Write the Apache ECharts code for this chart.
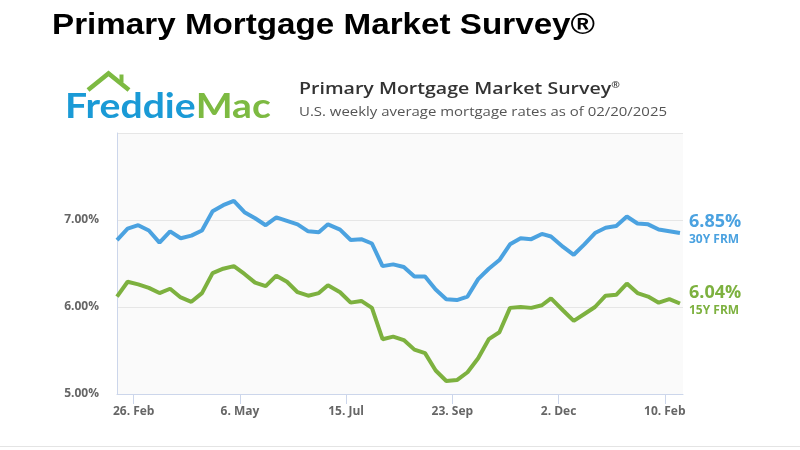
<!DOCTYPE html>
<html>
<head>
<meta charset="utf-8">
<script src="https://cdn.jsdelivr.net/npm/echarts@6/dist/echarts.min.js"></script>
<style>html,body{margin:0;padding:0;background:#fff;}#c{width:800px;height:450px;}</style>
</head>
<body>
<div id="c"></div>
<script>
const dates = ["2024-02-15","2024-02-22","2024-02-29","2024-03-07","2024-03-14","2024-03-21","2024-03-28","2024-04-04","2024-04-11","2024-04-18","2024-04-25","2024-05-02","2024-05-09","2024-05-16","2024-05-23","2024-05-30","2024-06-06","2024-06-13","2024-06-20","2024-06-27","2024-07-03","2024-07-11","2024-07-18","2024-07-25","2024-08-01","2024-08-08","2024-08-15","2024-08-22","2024-08-29","2024-09-05","2024-09-12","2024-09-19","2024-09-26","2024-10-03","2024-10-10","2024-10-17","2024-10-24","2024-10-31","2024-11-07","2024-11-14","2024-11-21","2024-11-27","2024-12-05","2024-12-12","2024-12-19","2024-12-26","2025-01-02","2025-01-09","2025-01-16","2025-01-23","2025-01-30","2025-02-06","2025-02-13","2025-02-20"];
const frm30 = [6.77,6.90,6.94,6.88,6.74,6.87,6.79,6.82,6.88,7.10,7.17,7.22,7.09,7.02,6.94,7.03,6.99,6.95,6.87,6.86,6.95,6.89,6.77,6.78,6.73,6.47,6.49,6.46,6.35,6.35,6.20,6.09,6.08,6.12,6.32,6.44,6.54,6.72,6.79,6.78,6.84,6.81,6.69,6.60,6.72,6.85,6.91,6.93,7.04,6.96,6.95,6.89,6.87,6.85];
const frm15 = [6.12,6.29,6.26,6.22,6.16,6.21,6.11,6.06,6.16,6.39,6.44,6.47,6.38,6.28,6.24,6.36,6.29,6.17,6.13,6.16,6.25,6.17,6.05,6.07,5.99,5.63,5.66,5.62,5.51,5.47,5.27,5.15,5.16,5.25,5.41,5.63,5.71,5.99,6.00,5.99,6.02,6.10,5.96,5.84,5.92,6.00,6.13,6.14,6.27,6.16,6.12,6.05,6.09,6.04];
const tickDates = ["2024-02-26","2024-05-06","2024-07-15","2024-09-23","2024-12-02","2025-02-10"];
const tickLabels = ["26. Feb","6. May","15. Jul","23. Sep","2. Dec","10. Feb"];
const axisStart = "2024-02-15";
const axisEnd = "2025-02-22";

const DAY = 86400000;
function toDay(s){ const p = s.split('-').map(Number); return Date.UTC(p[0], p[1]-1, p[2]) / DAY; }
const tickDays = tickDates.map(toDay);
const s30 = dates.map((d,i)=>[toDay(d), frm30[i]]);
const s15 = dates.map((d,i)=>[toDay(d), frm15[i]]);

const BLUE = '#4ba2e0', GREEN = '#7db13f';
const chart = echarts.init(document.getElementById('c'));
function endLbl(color, name){
  return {
    show: true, distance: 9, offset: [0, -3],
    formatter: p => '{v|' + p.value[1].toFixed(2) + '%}\n{n|' + name + '}',
    rich: {
      v: {fontFamily:'Open Sans', fontWeight:'bold', fontSize:18, color: color, lineHeight:20},
      n: {fontFamily:'Open Sans', fontWeight:'bold', fontSize:12, color: color, lineHeight:16}
    }
  };
}
chart.setOption({
  animation: false,
  backgroundColor: '#fff',
  grid: {left:117, right:117, top:133, bottom:56, show:true, backgroundColor:'#fafafa', borderWidth:0},
  xAxis: {
    type: 'value', min: toDay(axisStart), max: toDay(axisEnd),
    axisLine: {show:true, lineStyle:{color:'#ccd6eb', width:1}},
    axisTick: {show:true, length:10, lineStyle:{color:'#ccd6eb'}, customValues: tickDays},
    splitLine: {show:false},
    axisLabel: {
      customValues: tickDays, margin: 12,
      fontFamily:'Open Sans', fontWeight:'bold', fontSize:12, color:'#666',
      formatter: v => { let k = 0, b = 1e9; tickDays.forEach((t,i)=>{ if (Math.abs(t-v)<b){b=Math.abs(t-v);k=i;} }); return tickLabels[k]; }
    }
  },
  yAxis: {
    type: 'value', min: 5, max: 8, interval: 1,
    axisLine: {show:true, lineStyle:{color:'#ccd6eb', width:1}},
    axisTick: {show:false},
    splitLine: {lineStyle:{color:'#e6e6e6', width:1}},
    axisLabel: {showMaxLabel:false, margin:18, fontFamily:'Open Sans', fontWeight:'bold', fontSize:12, color:'#666', formatter: v => v.toFixed(2) + '%'}
  },
  series: [
    {name:'30Y FRM', type:'line', data:s30, showSymbol:false, lineStyle:{color:BLUE, width:4}, itemStyle:{color:BLUE}, endLabel: endLbl(BLUE,'30Y FRM')},
    {name:'15Y FRM', type:'line', data:s15, showSymbol:false, lineStyle:{color:GREEN, width:4}, itemStyle:{color:GREEN}, endLabel: endLbl(GREEN,'15Y FRM')}
  ],
  graphic: [
    {type:'text', x:52, y:26, scaleX:1.145, style:{text:'Primary Mortgage Market Survey®', fontFamily:'Liberation Sans', fontWeight:'bold', fontSize:29, fill:'#000', verticalAlign:'middle'}},
    {type:'text', x:65, y:107, scaleX:1.15, style:{text:'{b|Freddie}{g|Mac}', fontFamily:'Lato', fontWeight:'bold', fontSize:34, verticalAlign:'middle', rich:{b:{fill:'#1a9ad6', fontFamily:'Lato', fontWeight:'bold', fontSize:34}, g:{fill:'#7dba42', fontFamily:'Lato', fontWeight:'bold', fontSize:34}}}},
    {type:'polyline', shape:{points:[[88,90],[108.5,73.5],[129,90]]}, style:{stroke:'#7dba42', lineWidth:4.5, fill:null, lineJoin:'miter'}},
    {type:'rect', shape:{x:119.5, y:74.5, width:4, height:8}, style:{fill:'#7dba42'}},
    {type:'text', x:299, y:89, scaleX:1.15, style:{text:'{t|Primary Mortgage Market Survey}{r|®}', verticalAlign:'middle', rich:{t:{fontFamily:'Open Sans', fontWeight:600, fontSize:17, fill:'#333'}, r:{fontFamily:'Open Sans', fontWeight:600, fontSize:9, fill:'#333', verticalAlign:'top'}}}},
    {type:'text', x:299, y:112, scaleX:1.15, style:{text:'U.S. weekly average mortgage rates as of 02/20/2025', fontFamily:'Open Sans', fontSize:13, fill:'#555', verticalAlign:'middle'}},
    {type:'line', shape:{x1:0, y1:446.5, x2:800, y2:446.5}, style:{stroke:'#e4e4e4', lineWidth:1}}
  ]
});
</script>
</body>
</html>
